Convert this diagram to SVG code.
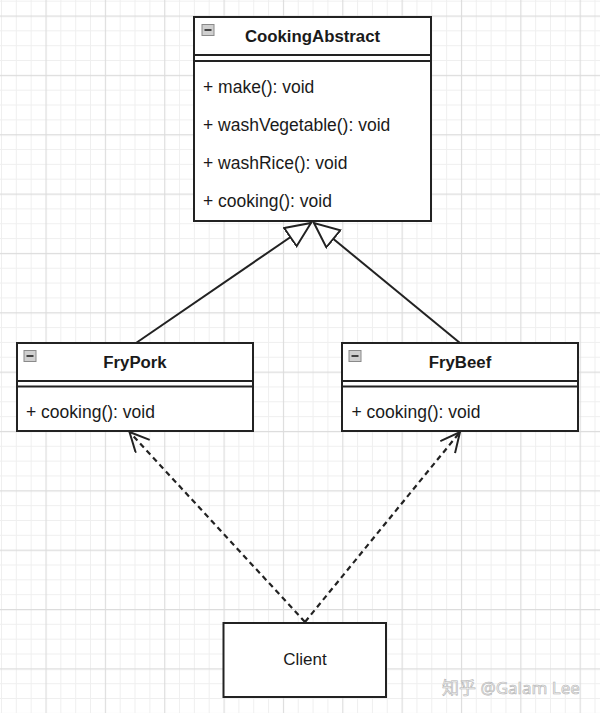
<svg xmlns="http://www.w3.org/2000/svg" width="600" height="713" viewBox="0 0 600 713">
  <style>
    .box { fill: #ffffff; stroke: #222222; stroke-width: 2; }
    .sep { stroke: #222222; stroke-width: 2; fill: none; }
    .title { font-family: "Liberation Sans", Arial, sans-serif; font-weight: bold; font-size: 16.8px; fill: #1a1a1a; text-anchor: middle; }
    .member { font-family: "Liberation Sans", Arial, sans-serif; font-size: 17.5px; fill: #1a1a1a; }
    .label { font-family: "Liberation Sans", Arial, sans-serif; font-size: 17px; fill: #1a1a1a; text-anchor: middle; }
    .icon { fill: #cfcfcf; stroke: #8a8a8a; stroke-width: 1; }
    .iconbar { stroke: #333333; stroke-width: 1.8; }
    .inherit { stroke: #222222; stroke-width: 2; fill: none; }
    .dep { stroke: #222222; stroke-width: 2.2; fill: none; stroke-dasharray: 5.5 4; }
    .wm { font-family: "Noto Sans", "Noto Sans CJK SC", sans-serif; font-size: 17px; fill: #f2f2f2; stroke: #b4b4b4; stroke-width: 0.6; }
  </style>
  <defs>
    <pattern id="grid" x="45.5" y="15.5" width="59.35" height="59.35" patternUnits="userSpaceOnUse">
      <path d="M15.34 0V59.35M30.18 0V59.35M45.01 0V59.35M0 15.34H59.35M0 30.18H59.35M0 45.01H59.35" stroke="#efefef" stroke-width="1"/>
      <path d="M0.5 0V59.35M0 0.5H59.35" stroke="#dcdcdc" stroke-width="1.3"/>
    </pattern>
    <marker id="tri" markerWidth="30" markerHeight="28" refX="26" refY="12" orient="auto" markerUnits="userSpaceOnUse">
      <path d="M1,1 L26,12 L1,23 Z" fill="#ffffff" stroke="#222222" stroke-width="2" stroke-dasharray="none"/>
    </marker>
    <marker id="open" markerWidth="24" markerHeight="24" refX="20" refY="10" orient="auto" markerUnits="userSpaceOnUse">
      <path d="M0.5,0.5 L20,10 L0.5,19.5" fill="none" stroke="#222222" stroke-width="2" stroke-dasharray="none"/>
    </marker>
  </defs>

  <rect x="0" y="0" width="600" height="713" fill="#ffffff"/>
  <rect x="0" y="0" width="600" height="713" fill="url(#grid)"/>

  <g id="connectors">
    <path class="inherit" d="M136,343 L311,223" marker-end="url(#tri)"/>
    <path class="inherit" d="M460,343 L314,223" marker-end="url(#tri)"/>
    <path class="dep" d="M305,622 L129.5,432" marker-end="url(#open)"/>
    <path class="dep" d="M305,622 L460,432" marker-end="url(#open)"/>
  </g>

  <g id="CookingAbstract">
    <rect class="box" x="194" y="17" width="237" height="204"/>
    <path class="sep" d="M194,55 H431 M194,61 H431"/>
    <rect class="icon" x="202" y="24.5" width="12" height="11"/>
    <path class="iconbar" d="M204.5,30 H211.5"/>
    <text class="title" x="312.5" y="42">CookingAbstract</text>
    <text class="member" x="203" y="93">+ make(): void</text>
    <text class="member" x="203" y="131">+ washVegetable(): void</text>
    <text class="member" x="203" y="169">+ washRice(): void</text>
    <text class="member" x="203" y="207">+ cooking(): void</text>
  </g>

  <g id="FryPork">
    <rect class="box" x="17" y="343" width="236" height="88"/>
    <path class="sep" d="M17,381 H253 M17,386.5 H253"/>
    <rect class="icon" x="24" y="350.5" width="12" height="11"/>
    <path class="iconbar" d="M26.5,356 H33.5"/>
    <text class="title" x="135" y="368">FryPork</text>
    <text class="member" x="26" y="418">+ cooking(): void</text>
  </g>

  <g id="FryBeef">
    <rect class="box" x="342" y="343" width="236" height="88"/>
    <path class="sep" d="M342,381 H578 M342,386.5 H578"/>
    <rect class="icon" x="349" y="350.5" width="12" height="11"/>
    <path class="iconbar" d="M351.5,356 H358.5"/>
    <text class="title" x="460" y="368">FryBeef</text>
    <text class="member" x="351.5" y="418">+ cooking(): void</text>
  </g>

  <g id="Client">
    <rect class="box" x="223.5" y="623" width="162.5" height="74"/>
    <text class="label" x="305" y="665">Client</text>
  </g>

  <text class="wm" x="442" y="694">知乎 @Galam Lee</text>
</svg>
